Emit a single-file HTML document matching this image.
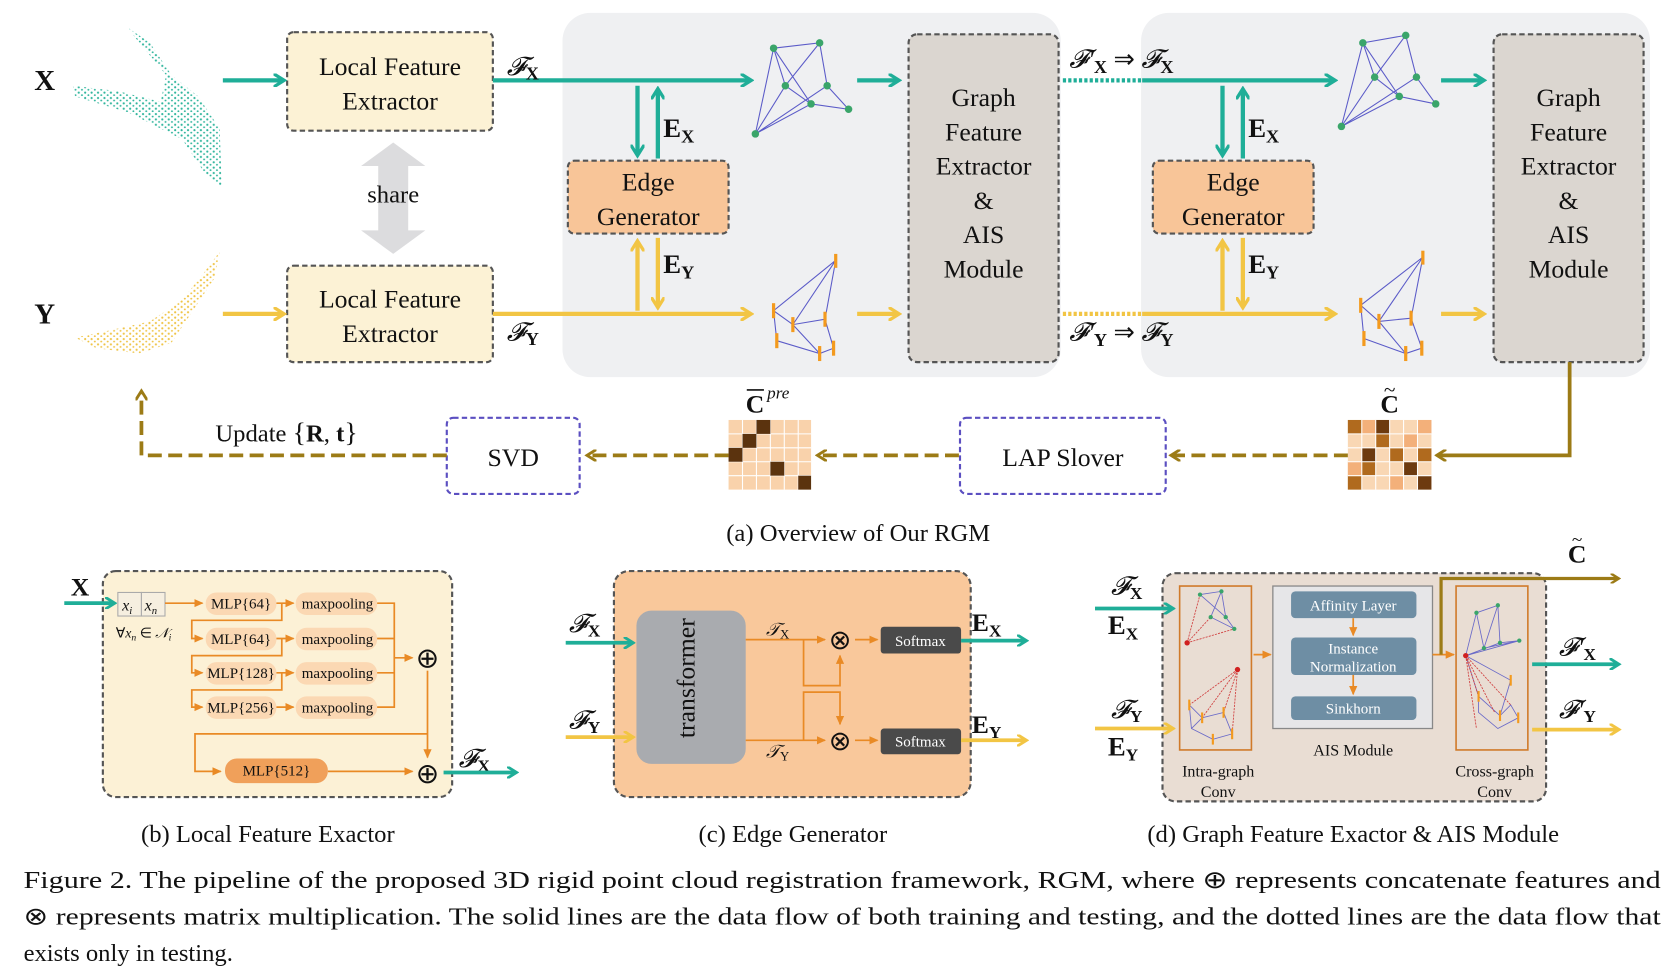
<!DOCTYPE html>
<html><head><meta charset="utf-8"><style>
html,body{margin:0;padding:0;background:#fff;width:1680px;height:976px;overflow:hidden}
svg{display:block}
text{font-family:"Liberation Serif",serif;fill:#111}
</style></head><body>
<svg width="1680" height="976" viewBox="0 0 1568 911" preserveAspectRatio="none" xmlns="http://www.w3.org/2000/svg">
<defs>
<marker id="at" viewBox="0 0 10 10" refX="7" refY="5" markerWidth="3.2" markerHeight="3.2" orient="auto"><path d="M0,0 L8,5 L0,10" fill="none" stroke="#1fae98" stroke-width="2.4"/></marker>
<marker id="ay" viewBox="0 0 10 10" refX="7" refY="5" markerWidth="3.2" markerHeight="3.2" orient="auto"><path d="M0,0 L8,5 L0,10" fill="none" stroke="#f2c544" stroke-width="2.4"/></marker>
<marker id="ab" viewBox="0 0 10 10" refX="7" refY="5" markerWidth="3.2" markerHeight="3.2" orient="auto"><path d="M0,0 L8,5 L0,10" fill="none" stroke="#9c7b16" stroke-width="2.4"/></marker>
<marker id="ao" viewBox="0 0 10 10" refX="8" refY="5" markerWidth="6" markerHeight="6" orient="auto"><path d="M0,1 L9,5 L0,9Z" fill="#e98a25"/></marker>
<pattern id="pt" width="6" height="5" patternUnits="userSpaceOnUse"><circle cx="1.5" cy="1.5" r="1" fill="#2fb59c"/><circle cx="4.5" cy="3.8" r="0.9" fill="#2fb59c"/></pattern>
<pattern id="py" width="6" height="5" patternUnits="userSpaceOnUse"><circle cx="1.5" cy="1.5" r="1" fill="#efc445"/><circle cx="4.5" cy="3.8" r="0.9" fill="#efc445"/></pattern>
</defs>

<!-- gray panels -->
<rect x="525" y="12" width="465" height="340" rx="26" fill="#eff0f2"/>
<rect x="1065" y="12" width="475" height="340" rx="26" fill="#eff0f2"/>

<!-- labels X Y -->
<text x="32" y="84" font-size="27" font-weight="bold">X</text>
<text x="32" y="302" font-size="27" font-weight="bold">Y</text>
<!-- point clouds -->
<polygon points="118,25 140,40 160,70 185,90 205,120 207,175 190,160 170,130 120,105 70,90 68,80 110,85 150,95 155,70" fill="url(#pt)"/>
<polygon points="205,235 190,255 170,280 140,300 95,310 70,315 90,325 130,330 160,320 180,290 200,260" fill="url(#py)"/>

<!-- LFE boxes -->
<rect x="268" y="30" width="192" height="92" rx="6" fill="#fcf2d5" stroke="#555" stroke-width="2" stroke-dasharray="5,3"/>
<text x="364" y="70" font-size="24" text-anchor="middle">Local Feature</text>
<text x="364" y="102" font-size="24" text-anchor="middle">Extractor</text>
<rect x="268" y="248" width="192" height="90" rx="6" fill="#fcf2d5" stroke="#555" stroke-width="2" stroke-dasharray="5,3"/>
<text x="364" y="287" font-size="24" text-anchor="middle">Local Feature</text>
<text x="364" y="319" font-size="24" text-anchor="middle">Extractor</text>
<!-- share -->
<path d="M367,133 L397,155 L381,155 L381,215 L397,215 L367,237 L337,215 L353,215 L353,155 L337,155Z" fill="#dcdcde"/>
<text x="367" y="189" font-size="23" text-anchor="middle">share</text>

<!-- input arrows -->
<line x1="208" y1="75" x2="264" y2="75" stroke="#1fae98" stroke-width="4" marker-end="url(#at)"/>
<line x1="208" y1="293" x2="264" y2="293" stroke="#f2c544" stroke-width="4" marker-end="url(#ay)"/>
<line x1="460" y1="75" x2="700" y2="75" stroke="#1fae98" stroke-width="4" marker-end="url(#at)"/>
<line x1="460" y1="293" x2="700" y2="293" stroke="#f2c544" stroke-width="4" marker-end="url(#ay)"/>
<text x="473" y="70" font-size="24" font-style="italic">𝓕<tspan font-size="17" dy="4" font-style="normal" font-weight="bold">X</tspan></text>
<text x="473" y="318" font-size="24" font-style="italic">𝓕<tspan font-size="17" dy="4" font-style="normal" font-weight="bold">Y</tspan></text>

<!-- edge generator 1 -->
<rect x="530" y="150" width="150" height="68" rx="6" fill="#f8c598" stroke="#555" stroke-width="2" stroke-dasharray="5,3"/>
<text x="605" y="178" font-size="24" text-anchor="middle">Edge</text>
<text x="605" y="210" font-size="24" text-anchor="middle">Generator</text>
<line x1="595" y1="80" x2="595" y2="144" stroke="#1fae98" stroke-width="4" marker-end="url(#at)"/>
<line x1="614" y1="148" x2="614" y2="84" stroke="#1fae98" stroke-width="4" marker-end="url(#at)"/>
<line x1="595" y1="290" x2="595" y2="226" stroke="#f2c544" stroke-width="4" marker-end="url(#ay)"/>
<line x1="614" y1="222" x2="614" y2="286" stroke="#f2c544" stroke-width="4" marker-end="url(#ay)"/>
<text x="619" y="128" font-size="25" font-weight="bold">E<tspan font-size="17" dy="5">X</tspan></text>
<text x="619" y="255" font-size="25" font-weight="bold">E<tspan font-size="17" dy="5">Y</tspan></text>

<!-- graph icons 1 -->
<g stroke="#5b5bc8" stroke-width="1" fill="none">
<path d="M722,45 L765,40 L772,80 L792,102 L757,97 L705,125 L722,45 L733,80 L757,97 M765,40 L733,80 L705,125 L772,80 M722,45 L757,97"/>
<path d="M780,243 L722,290 L740,303 L770,298 L778,325 L765,330 L725,318 L722,290 M780,243 L740,303 M780,243 L770,298 M740,303 L765,330"/>
</g>
<g fill="#3aa56a"><circle cx="722" cy="45" r="3.5"/><circle cx="765" cy="40" r="3.5"/><circle cx="733" cy="80" r="3.5"/><circle cx="772" cy="80" r="3.5"/><circle cx="757" cy="97" r="3.5"/><circle cx="792" cy="102" r="3.5"/><circle cx="705" cy="125" r="3.5"/></g>
<g stroke="#f39a1e" stroke-width="3"><line x1="722" y1="283" x2="722" y2="297"/><line x1="740" y1="296" x2="740" y2="310"/><line x1="770" y1="291" x2="770" y2="305"/><line x1="778" y1="318" x2="778" y2="332"/><line x1="765" y1="323" x2="765" y2="337"/><line x1="725" y1="311" x2="725" y2="325"/><line x1="780" y1="237" x2="780" y2="250"/></g>

<line x1="800" y1="75" x2="838" y2="75" stroke="#1fae98" stroke-width="4" marker-end="url(#at)"/>
<line x1="800" y1="293" x2="838" y2="293" stroke="#f2c544" stroke-width="4" marker-end="url(#ay)"/>

<!-- GFE 1 -->
<rect x="848" y="32" width="140" height="306" rx="8" fill="#dbd6d0" stroke="#555" stroke-width="2" stroke-dasharray="5,3"/>
<g font-size="24" text-anchor="middle"><text x="918" y="99">Graph</text><text x="918" y="131">Feature</text><text x="918" y="163">Extractor</text><text x="918" y="195">&amp;</text><text x="918" y="227">AIS</text><text x="918" y="259">Module</text></g>

<!-- between -->
<line x1="992" y1="75" x2="1066" y2="75" stroke="#1fae98" stroke-width="4" stroke-dasharray="3,2"/>
<line x1="992" y1="293" x2="1066" y2="293" stroke="#f2c544" stroke-width="4" stroke-dasharray="3,2"/>
<line x1="1066" y1="75" x2="1245" y2="75" stroke="#1fae98" stroke-width="4" marker-end="url(#at)"/>
<line x1="1066" y1="293" x2="1245" y2="293" stroke="#f2c544" stroke-width="4" marker-end="url(#ay)"/>
<text x="998" y="63" font-size="24" font-style="italic">𝓕′<tspan font-size="17" dy="5" font-style="normal" font-weight="bold">X</tspan><tspan dy="-5" font-style="normal"> ⇒ </tspan>𝓕<tspan font-size="17" dy="5" font-style="normal" font-weight="bold">X</tspan></text>
<text x="998" y="318" font-size="24" font-style="italic">𝓕′<tspan font-size="17" dy="5" font-style="normal" font-weight="bold">Y</tspan><tspan dy="-5" font-style="normal"> ⇒ </tspan>𝓕<tspan font-size="17" dy="5" font-style="normal" font-weight="bold">Y</tspan></text>

<!-- edge generator 2 -->
<rect x="1076" y="150" width="150" height="68" rx="6" fill="#f8c598" stroke="#555" stroke-width="2" stroke-dasharray="5,3"/>
<text x="1151" y="178" font-size="24" text-anchor="middle">Edge</text>
<text x="1151" y="210" font-size="24" text-anchor="middle">Generator</text>
<line x1="1141" y1="80" x2="1141" y2="144" stroke="#1fae98" stroke-width="4" marker-end="url(#at)"/>
<line x1="1160" y1="148" x2="1160" y2="84" stroke="#1fae98" stroke-width="4" marker-end="url(#at)"/>
<line x1="1141" y1="290" x2="1141" y2="226" stroke="#f2c544" stroke-width="4" marker-end="url(#ay)"/>
<line x1="1160" y1="222" x2="1160" y2="286" stroke="#f2c544" stroke-width="4" marker-end="url(#ay)"/>
<text x="1165" y="128" font-size="25" font-weight="bold">E<tspan font-size="17" dy="5">X</tspan></text>
<text x="1165" y="255" font-size="25" font-weight="bold">E<tspan font-size="17" dy="5">Y</tspan></text>

<!-- graph icons 2 -->
<g stroke="#5b5bc8" stroke-width="1" fill="none">
<path d="M1272,40 L1312,33 L1322,72 L1340,97 L1306,90 L1252,118 L1272,40 L1283,72 L1306,90 M1312,33 L1283,72 L1252,118 L1322,72 M1272,40 L1306,90"/>
<path d="M1328,240 L1270,285 L1287,300 L1317,297 L1327,325 L1312,330 L1273,316 L1270,285 M1328,240 L1287,300 M1328,240 L1317,297 M1287,300 L1312,330"/>
</g>
<g fill="#3aa56a"><circle cx="1272" cy="40" r="3.5"/><circle cx="1312" cy="33" r="3.5"/><circle cx="1283" cy="72" r="3.5"/><circle cx="1322" cy="72" r="3.5"/><circle cx="1306" cy="90" r="3.5"/><circle cx="1340" cy="97" r="3.5"/><circle cx="1252" cy="118" r="3.5"/></g>
<g stroke="#f39a1e" stroke-width="3"><line x1="1270" y1="278" x2="1270" y2="292"/><line x1="1287" y1="293" x2="1287" y2="307"/><line x1="1317" y1="290" x2="1317" y2="304"/><line x1="1327" y1="318" x2="1327" y2="332"/><line x1="1312" y1="323" x2="1312" y2="337"/><line x1="1273" y1="309" x2="1273" y2="323"/><line x1="1328" y1="234" x2="1328" y2="247"/></g>
<line x1="1345" y1="75" x2="1384" y2="75" stroke="#1fae98" stroke-width="4" marker-end="url(#at)"/>
<line x1="1345" y1="293" x2="1384" y2="293" stroke="#f2c544" stroke-width="4" marker-end="url(#ay)"/>

<!-- GFE 2 -->
<rect x="1394" y="32" width="140" height="306" rx="8" fill="#dbd6d0" stroke="#555" stroke-width="2" stroke-dasharray="5,3"/>
<g font-size="24" text-anchor="middle"><text x="1464" y="99">Graph</text><text x="1464" y="131">Feature</text><text x="1464" y="163">Extractor</text><text x="1464" y="195">&amp;</text><text x="1464" y="227">AIS</text><text x="1464" y="259">Module</text></g>

<!-- bottom loop -->
<polyline points="1465,338 1465,425 1342,425" fill="none" stroke="#9c7b16" stroke-width="3.5" marker-end="url(#ab)"/>
<!-- C tilde matrix -->
<g>
<rect x="1258" y="392" width="78" height="65" fill="#f9d7b4"/>
<g fill="#f3b07a"><rect x="1271" y="392" width="13" height="13"/><rect x="1310" y="405" width="13" height="13"/><rect x="1258" y="431" width="13" height="13"/><rect x="1297" y="444" width="13" height="13"/><rect x="1323" y="392" width="13" height="13"/></g>
<g fill="#b06a1e"><rect x="1258" y="392" width="13" height="13"/><rect x="1284" y="405" width="13" height="13"/><rect x="1297" y="418" width="13" height="13"/><rect x="1271" y="431" width="13" height="13"/><rect x="1323" y="418" width="13" height="13"/><rect x="1258" y="444" width="13" height="13"/></g>
<g fill="#6d3a0f"><rect x="1284" y="392" width="13" height="13"/><rect x="1271" y="418" width="13" height="13"/><rect x="1310" y="431" width="13" height="13"/><rect x="1323" y="444" width="13" height="13"/></g>
<g stroke="#fff" stroke-width="1"><path d="M1271,392v65M1284,392v65M1297,392v65M1310,392v65M1323,392v65M1258,405h78M1258,418h78M1258,431h78M1258,444h78"/></g>
</g>
<text x="1297" y="385" font-size="24" font-weight="bold" text-anchor="middle">C</text><text x="1297" y="370" font-size="20" text-anchor="middle">~</text>
<line x1="1258" y1="425" x2="1094" y2="425" stroke="#9c7b16" stroke-width="3.5" stroke-dasharray="13,6" marker-end="url(#ab)"/>
<rect x="896" y="390" width="192" height="71" rx="6" fill="#fff" stroke="#5b4fc1" stroke-width="2" stroke-dasharray="5,3"/>
<text x="992" y="435" font-size="24" text-anchor="middle">LAP Slover</text>
<line x1="895" y1="425" x2="764" y2="425" stroke="#9c7b16" stroke-width="3.5" stroke-dasharray="13,6" marker-end="url(#ab)"/>
<!-- C pre matrix -->
<g>
<rect x="680" y="392" width="77" height="65" fill="#f9d2ab"/>
<g stroke="#fff" stroke-width="1"><path d="M693,392v65M706,392v65M719,392v65M732,392v65M745,392v65M680,405h77M680,418h77M680,431h77M680,444h77"/></g>
<g fill="#5b330e"><rect x="706" y="392" width="13" height="13"/><rect x="693" y="405" width="13" height="13"/><rect x="680" y="418" width="13" height="13"/><rect x="719" y="431" width="13" height="13"/><rect x="745" y="444" width="12" height="13"/></g>
</g>
<text x="696" y="385" font-size="24" font-weight="bold">C</text><line x1="697" y1="364" x2="713" y2="364" stroke="#111" stroke-width="1.5"/><text x="716" y="372" font-size="16" font-style="italic">pre</text>
<line x1="680" y1="425" x2="549" y2="425" stroke="#9c7b16" stroke-width="3.5" stroke-dasharray="13,6" marker-end="url(#ab)"/>
<rect x="417" y="390" width="124" height="71" rx="6" fill="#fff" stroke="#5b4fc1" stroke-width="2" stroke-dasharray="5,3"/>
<text x="479" y="435" font-size="24" text-anchor="middle">SVD</text>
<polyline points="417,425 132,425 132,366" fill="none" stroke="#9c7b16" stroke-width="3.5" stroke-dasharray="13,6" marker-end="url(#ab)"/>
<text x="201" y="412" font-size="23">Update <tspan font-size="26">{</tspan><tspan font-weight="bold">R</tspan>, <tspan font-weight="bold">t</tspan><tspan font-size="26">}</tspan></text>
<text x="801" y="505" font-size="23" text-anchor="middle">(a) Overview of Our RGM</text>

<!-- (b) -->
<rect x="96" y="533" width="326" height="211" rx="12" fill="#fcf1d6" stroke="#555" stroke-width="2" stroke-dasharray="5,3"/>
<text x="66" y="556" font-size="24" font-weight="bold">X</text>
<line x1="60" y1="563" x2="106" y2="563" stroke="#1fae98" stroke-width="3.5" marker-end="url(#at)"/>
<rect x="110" y="553" width="22" height="22" fill="#f6efe0" stroke="#aaa"/><rect x="132" y="553" width="22" height="22" fill="#f6efe0" stroke="#aaa"/>
<text x="114" y="570" font-size="15" font-style="italic">x<tspan font-size="10" dy="3">i</tspan></text><text x="135" y="570" font-size="15" font-style="italic">x<tspan font-size="10" dy="3">n</tspan></text>
<text x="108" y="595" font-size="13">∀<tspan font-style="italic">x<tspan font-size="9" dy="3">n</tspan></tspan><tspan dy="-3"> ∈ </tspan><tspan font-style="italic">𝒩<tspan font-size="9" dy="3">i</tspan></tspan></text>
<g fill="#fbd8b3"><rect x="192" y="553" width="66" height="21" rx="10"/><rect x="192" y="586" width="66" height="21" rx="10"/><rect x="192" y="618" width="66" height="21" rx="10"/><rect x="192" y="650" width="66" height="21" rx="10"/>
<rect x="276" y="553" width="76" height="21" rx="10"/><rect x="276" y="586" width="76" height="21" rx="10"/><rect x="276" y="618" width="76" height="21" rx="10"/><rect x="276" y="650" width="76" height="21" rx="10"/></g>
<g font-size="14" text-anchor="middle"><text x="225" y="568">MLP{64}</text><text x="225" y="601">MLP{64}</text><text x="225" y="633">MLP{128}</text><text x="225" y="665">MLP{256}</text>
<text x="315" y="568">maxpooling</text><text x="315" y="601">maxpooling</text><text x="315" y="633">maxpooling</text><text x="315" y="665">maxpooling</text></g>
<g fill="none" stroke="#e98a25" stroke-width="1.6">
<line x1="154" y1="563" x2="189" y2="563" marker-end="url(#ao)"/>
<line x1="258" y1="563" x2="274" y2="563" marker-end="url(#ao)"/><line x1="258" y1="596" x2="274" y2="596" marker-end="url(#ao)"/><line x1="258" y1="628" x2="274" y2="628" marker-end="url(#ao)"/><line x1="258" y1="660" x2="274" y2="660" marker-end="url(#ao)"/>
<polyline points="263,563 263,579 179,579 179,596 189,596" marker-end="url(#ao)"/>
<polyline points="263,596 263,612 179,612 179,628 189,628" marker-end="url(#ao)"/>
<polyline points="263,628 263,644 179,644 179,660 189,660" marker-end="url(#ao)"/>
<polyline points="352,563 368,563 368,660 352,660"/><line x1="352" y1="596" x2="368" y2="596"/><line x1="352" y1="628" x2="368" y2="628"/>
<line x1="368" y1="614" x2="385" y2="614" marker-end="url(#ao)"/>
<line x1="399" y1="626" x2="399" y2="707" marker-end="url(#ao)"/>
<polyline points="399,685 182,685 182,720 206,720" marker-end="url(#ao)"/>
<line x1="306" y1="720" x2="385" y2="720" marker-end="url(#ao)"/>
</g>
<rect x="210" y="708" width="96" height="23" rx="11" fill="#f0a05a"/>
<text x="258" y="724" font-size="14" text-anchor="middle">MLP{512}</text>
<text x="399" y="623" font-size="26" text-anchor="middle">⊕</text>
<text x="399" y="731" font-size="26" text-anchor="middle">⊕</text>
<text x="428" y="716" font-size="24" font-style="italic">𝓕<tspan font-size="16" dy="4" font-style="normal" font-weight="bold">X</tspan></text>
<line x1="414" y1="721" x2="481" y2="721" stroke="#1fae98" stroke-width="3.5" marker-end="url(#at)"/>
<text x="250" y="786" font-size="23" text-anchor="middle">(b) Local Feature Exactor</text>

<!-- (c) -->
<rect x="573" y="533" width="333" height="211" rx="14" fill="#f9c89b" stroke="#555" stroke-width="2" stroke-dasharray="5,3"/>
<rect x="594" y="570" width="102" height="143" rx="14" fill="#a9abaf"/>
<text x="657" y="642" font-size="24" text-anchor="middle" transform="rotate(-90 648 642)">transformer</text>
<text x="531" y="590" font-size="24" font-style="italic">𝓕<tspan font-size="16" dy="4" font-style="normal" font-weight="bold">X</tspan></text>
<text x="531" y="680" font-size="24" font-style="italic">𝓕<tspan font-size="16" dy="4" font-style="normal" font-weight="bold">Y</tspan></text>
<line x1="528" y1="600" x2="590" y2="600" stroke="#1fae98" stroke-width="3.5" marker-end="url(#at)"/>
<line x1="528" y1="688" x2="590" y2="688" stroke="#f2c544" stroke-width="3.5" marker-end="url(#ay)"/>
<text x="715" y="593" font-size="17" font-style="italic">𝒯<tspan font-size="12" dy="3" font-style="normal">X</tspan></text>
<text x="715" y="707" font-size="17" font-style="italic">𝒯<tspan font-size="12" dy="3" font-style="normal">Y</tspan></text>
<g fill="none" stroke="#e98a25" stroke-width="1.6">
<line x1="696" y1="597" x2="770" y2="597" marker-end="url(#ao)"/>
<line x1="696" y1="691" x2="770" y2="691" marker-end="url(#ao)"/>
<polyline points="750,597 750,640 784,640 784,612" marker-end="url(#ao)"/>
<polyline points="750,691 750,646 784,646 784,676" marker-end="url(#ao)"/>
<line x1="798" y1="597" x2="819" y2="597" marker-end="url(#ao)"/>
<line x1="798" y1="691" x2="819" y2="691" marker-end="url(#ao)"/>
</g>
<text x="784" y="606" font-size="25" text-anchor="middle">⊗</text>
<text x="784" y="700" font-size="25" text-anchor="middle">⊗</text>
<rect x="822" y="585" width="75" height="25" rx="3" fill="#4a4a4a"/><rect x="822" y="680" width="75" height="24" rx="3" fill="#4a4a4a"/>
<text x="859" y="603" font-size="14" text-anchor="middle" style="fill:#fff">Softmax</text>
<text x="859" y="697" font-size="14" text-anchor="middle" style="fill:#fff">Softmax</text>
<text x="907" y="589" font-size="24" font-weight="bold">E<tspan font-size="16" dy="5">X</tspan></text>
<text x="907" y="684" font-size="24" font-weight="bold">E<tspan font-size="16" dy="5">Y</tspan></text>
<line x1="897" y1="598" x2="957" y2="598" stroke="#1fae98" stroke-width="3.5" marker-end="url(#at)"/>
<line x1="897" y1="691" x2="957" y2="691" stroke="#f2c544" stroke-width="3.5" marker-end="url(#ay)"/>
<text x="740" y="786" font-size="23" text-anchor="middle">(c) Edge Generator</text>

<!-- (d) -->
<rect x="1085" y="535" width="358" height="213" rx="12" fill="#e9ddd3" stroke="#555" stroke-width="2" stroke-dasharray="5,3"/>
<rect x="1101" y="547" width="67" height="153" fill="none" stroke="#d07a2a" stroke-width="1.5"/>
<rect x="1359" y="547" width="67" height="153" fill="none" stroke="#d07a2a" stroke-width="1.5"/>
<rect x="1188" y="547" width="149" height="133" fill="#e6e6e8" stroke="#888" stroke-width="1.2"/>
<g fill="#6e8ea4"><rect x="1205" y="552" width="117" height="25" rx="4"/><rect x="1205" y="595" width="117" height="35" rx="4"/><rect x="1205" y="650" width="117" height="22" rx="4"/></g>
<g font-size="14" text-anchor="middle" style="fill:#fff"><text x="1263" y="570" style="fill:#fff">Affinity Layer</text><text x="1263" y="610" style="fill:#fff">Instance</text><text x="1263" y="627" style="fill:#fff">Normalization</text><text x="1263" y="666" style="fill:#fff">Sinkhorn</text></g>
<g stroke="#e98a25" stroke-width="1.6"><line x1="1263" y1="577" x2="1263" y2="593" marker-end="url(#ao)"/><line x1="1263" y1="630" x2="1263" y2="648" marker-end="url(#ao)"/><line x1="1170" y1="611" x2="1186" y2="611" marker-end="url(#ao)"/><line x1="1337" y1="611" x2="1357" y2="611" marker-end="url(#ao)"/></g>
<text x="1263" y="705" font-size="15" text-anchor="middle">AIS Module</text>
<text x="1137" y="725" font-size="15" text-anchor="middle">Intra-graph</text><text x="1137" y="744" font-size="15" text-anchor="middle">Conv</text>
<text x="1395" y="725" font-size="15" text-anchor="middle">Cross-graph</text><text x="1395" y="744" font-size="15" text-anchor="middle">Conv</text>
<!-- mini graphs -->
<g fill="none" stroke-width="0.8">
<path d="M1120,555 L1140,552 L1130,576 L1152,587 L1144,576 L1120,555 M1140,552 L1144,576" stroke="#6a6ac8"/>
<path d="M1108,600 L1120,555 M1108,600 L1130,576 M1108,600 L1152,587" stroke="#d04040" stroke-dasharray="2,1"/>
<path d="M1110,658 L1122,670 L1142,665 L1150,685 L1132,690 L1112,680 L1110,658 M1122,670 L1112,680" stroke="#6a6ac8"/>
<path d="M1155,625 L1110,658 M1155,625 L1122,670 M1155,625 L1142,665 M1155,625 L1150,685" stroke="#d04040" stroke-dasharray="2,1"/>
<path d="M1378,572 L1398,565 L1400,600 L1418,598 L1385,605 M1378,572 L1385,605 L1398,565 M1378,572 L1368,612 L1400,600 M1368,612 L1418,598" stroke="#6a6ac8"/>
<path d="M1368,612 L1380,650 L1400,668 L1410,658 L1417,670 L1398,680 L1380,665 L1380,650 M1368,612 L1410,635 L1400,668" stroke="#6a6ac8"/>
<path d="M1368,612 L1380,650 M1368,612 L1395,665 M1368,612 L1378,680 M1368,612 L1410,658" stroke="#d04040" stroke-dasharray="2,1"/>
</g>
<g fill="#3aa56a"><circle cx="1120" cy="555" r="2"/><circle cx="1140" cy="552" r="2"/><circle cx="1130" cy="576" r="2"/><circle cx="1152" cy="587" r="2"/><circle cx="1144" cy="576" r="2"/><circle cx="1378" cy="572" r="2"/><circle cx="1398" cy="565" r="2"/><circle cx="1400" cy="600" r="2"/><circle cx="1418" cy="598" r="2"/><circle cx="1385" cy="605" r="2"/></g>
<circle cx="1108" cy="600" r="2.5" fill="#d02020"/><circle cx="1155" cy="625" r="2.5" fill="#d02020"/><circle cx="1368" cy="612" r="2.5" fill="#d02020"/>
<g stroke="#f39a1e" stroke-width="2"><line x1="1110" y1="653" x2="1110" y2="663"/><line x1="1122" y1="665" x2="1122" y2="675"/><line x1="1142" y1="660" x2="1142" y2="670"/><line x1="1150" y1="680" x2="1150" y2="690"/><line x1="1132" y1="685" x2="1132" y2="695"/><line x1="1380" y1="645" x2="1380" y2="655"/><line x1="1400" y1="663" x2="1400" y2="673"/><line x1="1410" y1="630" x2="1410" y2="640"/><line x1="1417" y1="665" x2="1417" y2="675"/></g>
<!-- d arrows -->
<text x="1037" y="555" font-size="24" font-style="italic">𝓕<tspan font-size="16" dy="4" font-style="normal" font-weight="bold">X</tspan></text>
<text x="1034" y="592" font-size="25" font-weight="bold">E<tspan font-size="16" dy="5">X</tspan></text>
<text x="1037" y="670" font-size="24" font-style="italic">𝓕<tspan font-size="16" dy="4" font-style="normal" font-weight="bold">Y</tspan></text>
<text x="1034" y="705" font-size="25" font-weight="bold">E<tspan font-size="16" dy="5">Y</tspan></text>
<line x1="1022" y1="568" x2="1094" y2="568" stroke="#1fae98" stroke-width="3.5" marker-end="url(#at)"/>
<line x1="1022" y1="680" x2="1094" y2="680" stroke="#f2c544" stroke-width="3.5" marker-end="url(#ay)"/>
<polyline points="1345,611 1345,540 1510,540" fill="none" stroke="#9c7b16" stroke-width="3" marker-end="url(#ab)"/>
<text x="1472" y="525" font-size="24" font-weight="bold" text-anchor="middle">C</text><text x="1472" y="509" font-size="18" text-anchor="middle">~</text>
<text x="1455" y="612" font-size="24" font-style="italic">𝓕′<tspan font-size="16" dy="4" font-style="normal" font-weight="bold">X</tspan></text>
<text x="1455" y="670" font-size="24" font-style="italic">𝓕′<tspan font-size="16" dy="4" font-style="normal" font-weight="bold">Y</tspan></text>
<line x1="1430" y1="620" x2="1510" y2="620" stroke="#1fae98" stroke-width="3.5" marker-end="url(#at)"/>
<line x1="1430" y1="681" x2="1510" y2="681" stroke="#f2c544" stroke-width="3.5" marker-end="url(#ay)"/>
<text x="1263" y="786" font-size="23" text-anchor="middle">(d) Graph Feature Exactor &amp; AIS Module</text>

<!-- caption -->
<text x="22" y="829" font-size="23" textLength="1528" lengthAdjust="spacingAndGlyphs">Figure 2. The pipeline of the proposed 3D rigid point cloud registration framework, RGM, where ⊕ represents concatenate features and</text>
<text x="22" y="863" font-size="23" textLength="1528" lengthAdjust="spacingAndGlyphs">⊗ represents matrix multiplication. The solid lines are the data flow of both training and testing, and the dotted lines are the data flow that</text>
<text x="22" y="897" font-size="23">exists only in testing.</text>
</svg>
</body></html>
